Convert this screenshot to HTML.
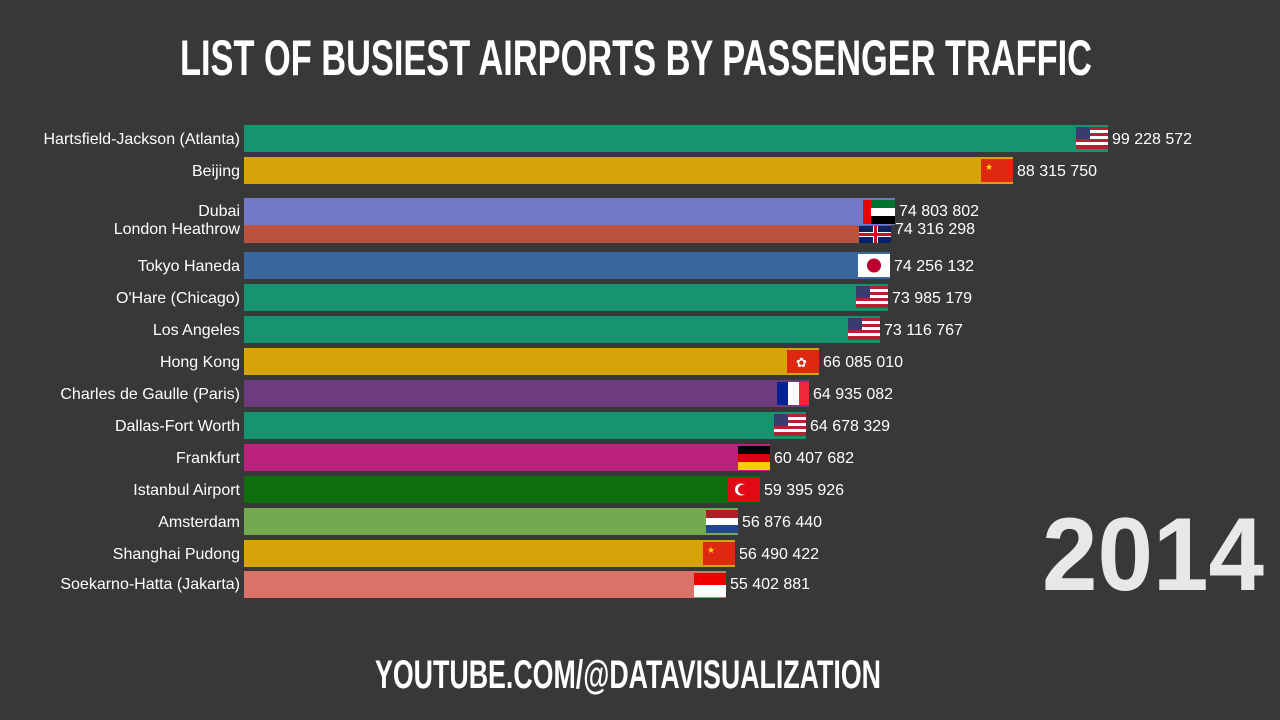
<!DOCTYPE html>
<html><head><meta charset="utf-8"><style>
html,body{margin:0;padding:0;background:#383838;}
svg{display:block}
text{font-family:"Liberation Sans",sans-serif;}
</style></head><body>
<svg width="1280" height="720" viewBox="0 0 1280 720">
<rect width="1280" height="720" fill="#383838"/>
<text x="636" y="75" text-anchor="middle" font-size="50" font-weight="bold" fill="#fff" textLength="912" lengthAdjust="spacingAndGlyphs">LIST OF BUSIEST AIRPORTS BY PASSENGER TRAFFIC</text>
<text x="628" y="688" text-anchor="middle" font-size="40" font-weight="bold" fill="#fff" textLength="506" lengthAdjust="spacingAndGlyphs">YOUTUBE.COM/@DATAVISUALIZATION</text>
<text x="1153" y="590" text-anchor="middle" font-size="104" font-weight="bold" fill="#e8e8e8" textLength="222" lengthAdjust="spacingAndGlyphs">2014</text>
<g font-size="16" fill="#fff">
<!-- bars -->
<rect x="244" y="125" width="864" height="27" fill="#169470"/>
<rect x="244" y="157" width="769" height="27" fill="#d6a30a"/>
<rect x="244" y="198" width="651" height="27" fill="#7078c8"/>
<rect x="244" y="225" width="647" height="18" fill="#b9533f"/>
<rect x="244" y="252" width="646" height="27" fill="#3a679c"/>
<rect x="244" y="284" width="644" height="27" fill="#169470"/>
<rect x="244" y="316" width="636" height="27" fill="#169470"/>
<rect x="244" y="348" width="575" height="27" fill="#d6a30a"/>
<rect x="244" y="380" width="565" height="27" fill="#6e3b7c"/>
<rect x="244" y="412" width="562" height="27" fill="#169470"/>
<rect x="244" y="444" width="526" height="27" fill="#b9217c"/>
<rect x="244" y="476" width="516" height="27" fill="#0e6e0e"/>
<rect x="244" y="508" width="494" height="27" fill="#73a94f"/>
<rect x="244" y="540" width="491" height="27" fill="#d6a30a"/>
<rect x="244" y="571" width="482" height="27" fill="#d9736a"/>
<!-- flags -->
<g>
<rect x="1076" y="127" width="32" height="22" fill="#b22234"/><rect x="1076" y="130" width="32" height="3" fill="#fff"/><rect x="1076" y="136" width="32" height="3" fill="#fff"/><rect x="1076" y="142" width="32" height="3" fill="#fff"/><rect x="1076" y="127" width="14" height="12" fill="#3c3b6e"/>
<rect x="981" y="159" width="32" height="23" fill="#de2910"/><text x="985" y="170" font-size="9" fill="#ffde00">★</text>
<rect x="863" y="200" width="32" height="8" fill="#00732f"/><rect x="863" y="208" width="32" height="8" fill="#fff"/><rect x="863" y="216" width="32" height="8" fill="#000"/><rect x="863" y="200" width="8" height="24" fill="#e00"/>
<rect x="859" y="226" width="32" height="17" fill="#012169"/><rect x="859" y="232" width="32" height="5" fill="#fff"/><rect x="873" y="226" width="5" height="17" fill="#fff"/><rect x="859" y="233" width="32" height="3" fill="#c8102e"/><rect x="874" y="226" width="3" height="17" fill="#c8102e"/>
<rect x="858" y="254" width="32" height="23" fill="#fff"/><circle cx="874" cy="265.5" r="7" fill="#bc002d"/>
<rect x="856" y="286" width="32" height="22" fill="#b22234"/><rect x="856" y="289" width="32" height="3" fill="#fff"/><rect x="856" y="295" width="32" height="3" fill="#fff"/><rect x="856" y="301" width="32" height="3" fill="#fff"/><rect x="856" y="286" width="14" height="12" fill="#3c3b6e"/>
<rect x="848" y="318" width="32" height="22" fill="#b22234"/><rect x="848" y="321" width="32" height="3" fill="#fff"/><rect x="848" y="327" width="32" height="3" fill="#fff"/><rect x="848" y="333" width="32" height="3" fill="#fff"/><rect x="848" y="318" width="14" height="12" fill="#3c3b6e"/>
<rect x="787" y="350" width="32" height="23" fill="#de2910"/><text x="796" y="367" font-size="13" fill="#fff">✿</text>
<rect x="777" y="382" width="11" height="23" fill="#002395"/><rect x="788" y="382" width="11" height="23" fill="#fff"/><rect x="799" y="382" width="10" height="23" fill="#ed2939"/>
<rect x="774" y="414" width="32" height="22" fill="#b22234"/><rect x="774" y="417" width="32" height="3" fill="#fff"/><rect x="774" y="423" width="32" height="3" fill="#fff"/><rect x="774" y="429" width="32" height="3" fill="#fff"/><rect x="774" y="414" width="14" height="12" fill="#3c3b6e"/>
<rect x="738" y="446" width="32" height="8" fill="#000"/><rect x="738" y="454" width="32" height="8" fill="#dd0000"/><rect x="738" y="462" width="32" height="8" fill="#ffce00"/>
<rect x="728" y="478" width="32" height="23" fill="#e30a17"/><circle cx="741" cy="489.5" r="6" fill="#fff"/><circle cx="743" cy="489.5" r="5" fill="#e30a17"/>
<rect x="706" y="510" width="32" height="8" fill="#ae1c28"/><rect x="706" y="518" width="32" height="7" fill="#fff"/><rect x="706" y="525" width="32" height="8" fill="#21468b"/>
<rect x="703" y="542" width="32" height="23" fill="#de2910"/><text x="707" y="553" font-size="9" fill="#ffde00">★</text>
<rect x="694" y="573" width="32" height="12" fill="#e00"/><rect x="694" y="585" width="32" height="12" fill="#fff"/>
</g>
<!-- labels -->
<g text-anchor="end">
<text x="240" y="144">Hartsfield-Jackson (Atlanta)</text>
<text x="240" y="176">Beijing</text>
<text x="240" y="216">Dubai</text>
<text x="240" y="234">London Heathrow</text>
<text x="240" y="271">Tokyo Haneda</text>
<text x="240" y="303">O'Hare (Chicago)</text>
<text x="240" y="335">Los Angeles</text>
<text x="240" y="367">Hong Kong</text>
<text x="240" y="399">Charles de Gaulle (Paris)</text>
<text x="240" y="431">Dallas-Fort Worth</text>
<text x="240" y="463">Frankfurt</text>
<text x="240" y="495">Istanbul Airport</text>
<text x="240" y="527">Amsterdam</text>
<text x="240" y="559">Shanghai Pudong</text>
<text x="240" y="589">Soekarno-Hatta (Jakarta)</text>
</g>
<!-- values -->
<text x="1112" y="144">99 228 572</text>
<text x="1017" y="176">88 315 750</text>
<text x="899" y="216">74 803 802</text>
<text x="895" y="234">74 316 298</text>
<text x="894" y="271">74 256 132</text>
<text x="892" y="303">73 985 179</text>
<text x="884" y="335">73 116 767</text>
<text x="823" y="367">66 085 010</text>
<text x="813" y="399">64 935 082</text>
<text x="810" y="431">64 678 329</text>
<text x="774" y="463">60 407 682</text>
<text x="764" y="495">59 395 926</text>
<text x="742" y="527">56 876 440</text>
<text x="739" y="559">56 490 422</text>
<text x="730" y="589">55 402 881</text>
</g>
</svg>
</body></html>
